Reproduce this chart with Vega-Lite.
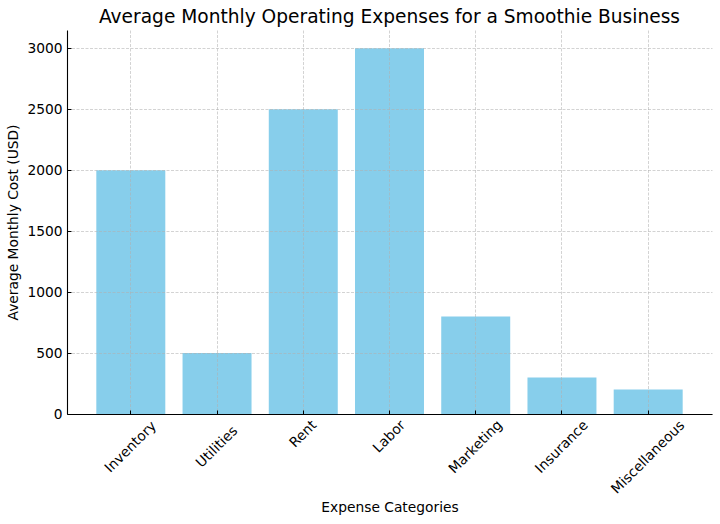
{
  "$schema": "https://vega.github.io/schema/vega-lite/v6.json",
  "width": 645,
  "height": 384,
  "autosize": {"type": "none"},
  "padding": {"left": 67, "top": 30, "right": 8, "bottom": 110},
  "background": "white",
  "title": {
    "text": "Average Monthly Operating Expenses for a Smoothie Business",
    "font": "DejaVu Sans",
    "fontSize": 18.6,
    "fontWeight": "normal",
    "color": "#000000",
    "anchor": "middle",
    "offset": 3
  },
  "data": {
    "values": [
      {"category": "Inventory", "cost": 2000},
      {"category": "Utilities", "cost": 500},
      {"category": "Rent", "cost": 2500},
      {"category": "Labor", "cost": 3000},
      {"category": "Marketing", "cost": 800},
      {"category": "Insurance", "cost": 300},
      {"category": "Miscellaneous", "cost": 200}
    ]
  },
  "config": {
    "view": {"stroke": null},
    "axis": {
      "labelFont": "DejaVu Sans",
      "titleFont": "DejaVu Sans",
      "labelFontSize": 13.8,
      "titleFontSize": 13.8,
      "titleFontWeight": "normal",
      "labelColor": "#000000",
      "titleColor": "#000000",
      "domainColor": "#000000",
      "domainWidth": 1.1,
      "tickColor": "#000000",
      "tickWidth": 1,
      "gridColor": "#b0b0b0",
      "gridOpacity": 0.7,
      "gridWidth": 0.8,
      "gridDash": [3, 1.5]
    }
  },
  "encoding": {
    "x": {
      "field": "category",
      "type": "nominal",
      "sort": null,
      "scale": {"paddingInner": 0.2, "paddingOuter": 0.34},
      "axis": {
        "title": "Expense Categories",
        "zindex": 1,
        "grid": true,
        "labels": false,
        "bandPosition": 0.5,
        "tickSize": -4,
        "titlePadding": 86
      }
    }
  },
  "layer": [
    {
      "mark": {"type": "bar", "color": "#87CEEB"},
      "encoding": {
        "y": {
          "field": "cost",
          "type": "quantitative",
          "scale": {"domain": [0, 3150], "nice": false},
          "axis": {
            "title": "Average Monthly Cost (USD)",
            "zindex": 1,
            "format": "d",
            "values": [0, 500, 1000, 1500, 2000, 2500, 3000],
            "tickSize": -4,
            "labelPadding": 9,
            "titlePadding": 6
          }
        }
      }
    },
    {
      "mark": {
        "type": "text",
        "angle": 315,
        "align": "center",
        "baseline": "middle",
        "font": "DejaVu Sans",
        "fontSize": 13.8,
        "color": "#000000",
        "dx": {"expr": "-(5 + 0.3536*(length(datum.category)*7.3+14))/1.4142"},
        "dy": {"expr": "(5 + 0.3536*(length(datum.category)*7.3+14))/1.4142"}
      },
      "encoding": {
        "y": {"datum": 0, "type": "quantitative"},
        "text": {"field": "category", "type": "nominal"}
      }
    }
  ]
}
